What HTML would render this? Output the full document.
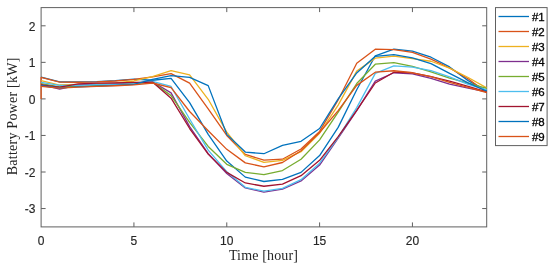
<!DOCTYPE html>
<html><head><meta charset="utf-8"><title>Battery Power</title>
<style>
html,body{margin:0;padding:0;background:#fff;}
body{width:550px;height:268px;overflow:hidden;}
svg{display:block;}
.tick{font-family:"Liberation Sans",Arial,Helvetica,sans-serif;font-size:12px;fill:#262626;stroke:#262626;stroke-width:0.15px;}
.lab{font-family:"Liberation Serif","Times New Roman",serif;font-size:14px;fill:#262626;}
.leg{font-family:"Liberation Sans",Arial,Helvetica,sans-serif;font-size:11.5px;fill:#000;stroke:#000;stroke-width:0.3px;}
</style></head><body>
<svg width="550" height="268" viewBox="0 0 550 268">
<rect x="0" y="0" width="550" height="268" fill="#fff"/>
<rect x="41.1" y="7.6" width="445.59999999999997" height="219.3" fill="#fff" stroke="#606060" stroke-width="1"/>
<text class="tick" x="41.10" y="244.5" text-anchor="middle">0</text>
<path d="M133.93 226.9 V222.4 M133.93 7.6 V12.1" stroke="#606060" stroke-width="1" fill="none"/>
<text class="tick" x="133.93" y="244.5" text-anchor="middle">5</text>
<path d="M226.77 226.9 V222.4 M226.77 7.6 V12.1" stroke="#606060" stroke-width="1" fill="none"/>
<text class="tick" x="226.77" y="244.5" text-anchor="middle">10</text>
<path d="M319.60 226.9 V222.4 M319.60 7.6 V12.1" stroke="#606060" stroke-width="1" fill="none"/>
<text class="tick" x="319.60" y="244.5" text-anchor="middle">15</text>
<path d="M412.43 226.9 V222.4 M412.43 7.6 V12.1" stroke="#606060" stroke-width="1" fill="none"/>
<text class="tick" x="412.43" y="244.5" text-anchor="middle">20</text>
<path d="M41.1 208.55 H45.6 M486.7 208.55 H482.2" stroke="#606060" stroke-width="1" fill="none"/>
<text class="tick" x="35.5" y="213.45" text-anchor="end">-3</text>
<path d="M41.1 172.00 H45.6 M486.7 172.00 H482.2" stroke="#606060" stroke-width="1" fill="none"/>
<text class="tick" x="35.5" y="176.90" text-anchor="end">-2</text>
<path d="M41.1 135.45 H45.6 M486.7 135.45 H482.2" stroke="#606060" stroke-width="1" fill="none"/>
<text class="tick" x="35.5" y="140.35" text-anchor="end">-1</text>
<path d="M41.1 98.90 H45.6 M486.7 98.90 H482.2" stroke="#606060" stroke-width="1" fill="none"/>
<text class="tick" x="35.5" y="103.80" text-anchor="end">0</text>
<path d="M41.1 62.35 H45.6 M486.7 62.35 H482.2" stroke="#606060" stroke-width="1" fill="none"/>
<text class="tick" x="35.5" y="67.25" text-anchor="end">1</text>
<path d="M41.1 25.80 H45.6 M486.7 25.80 H482.2" stroke="#606060" stroke-width="1" fill="none"/>
<text class="tick" x="35.5" y="30.70" text-anchor="end">2</text>
<polyline points="41.10,77.15 59.67,81.79 78.23,81.90 96.80,81.54 115.37,80.62 133.93,79.16 152.50,80.26 171.07,78.43 189.63,102.56 208.20,134.35 226.77,161.03 245.33,177.12 263.90,181.50 282.47,179.31 301.03,172.37 319.60,155.55 338.17,127.41 356.73,89.76 375.30,55.77 393.87,49.19 412.43,51.20 431.00,57.23 449.57,66.92 468.13,80.62 486.70,90.86" fill="none" stroke="#0072BD" stroke-width="1.3" stroke-linejoin="round"/>
<polyline points="41.10,98.90 41.10,77.34 59.67,82.09 78.23,82.27 96.80,81.90 115.37,80.99 133.93,79.35 152.50,76.97 171.07,73.68 189.63,83.18 208.20,108.77 226.77,135.45 245.33,154.46 263.90,160.12 282.47,159.21 301.03,148.97 319.60,131.43 338.17,100.00 356.73,63.26 375.30,49.19 393.87,49.56 412.43,52.48 431.00,59.06 449.57,68.02 468.13,78.80 486.70,92.50" fill="none" stroke="#D95319" stroke-width="1.3" stroke-linejoin="round"/>
<polyline points="41.10,80.62 59.67,85.01 78.23,84.28 96.80,83.55 115.37,82.82 133.93,80.99 152.50,76.60 171.07,70.57 189.63,74.96 208.20,99.27 226.77,132.16 245.33,155.74 263.90,162.31 282.47,160.30 301.03,151.71 319.60,133.26 338.17,105.11 356.73,71.12 375.30,58.15 393.87,56.14 412.43,58.70 431.00,61.25 449.57,68.20 468.13,77.52 486.70,87.94" fill="none" stroke="#EDB120" stroke-width="1.3" stroke-linejoin="round"/>
<polyline points="41.10,84.65 59.67,89.21 78.23,84.83 96.80,84.28 115.37,83.91 133.93,83.37 152.50,81.72 171.07,92.87 189.63,126.68 208.20,153.72 226.77,173.46 245.33,187.90 263.90,192.10 282.47,189.18 301.03,180.95 319.60,165.06 338.17,138.01 356.73,110.60 375.30,81.17 393.87,72.77 412.43,73.86 431.00,78.43 449.57,84.10 468.13,88.12 486.70,91.96" fill="none" stroke="#7E2F8E" stroke-width="1.3" stroke-linejoin="round"/>
<polyline points="41.10,83.55 59.67,86.84 78.23,86.47 96.80,85.74 115.37,85.01 133.93,83.91 152.50,82.09 171.07,95.61 189.63,122.29 208.20,146.42 226.77,164.32 245.33,172.37 263.90,174.56 282.47,170.54 301.03,159.21 319.60,139.84 338.17,112.06 356.73,83.55 375.30,64.18 393.87,62.72 412.43,66.37 431.00,71.85 449.57,78.14 468.13,83.18 486.70,88.48" fill="none" stroke="#77AC30" stroke-width="1.3" stroke-linejoin="round"/>
<polyline points="41.10,82.45 59.67,85.38 78.23,85.38 96.80,84.65 115.37,84.28 133.93,83.55 152.50,81.36 171.07,86.47 189.63,119.00 208.20,150.07 226.77,171.63 245.33,187.35 263.90,191.19 282.47,188.45 301.03,179.68 319.60,163.23 338.17,137.28 356.73,107.67 375.30,73.32 393.87,65.82 412.43,67.10 431.00,70.57 449.57,76.97 468.13,84.28 486.70,89.76" fill="none" stroke="#4DBEEE" stroke-width="1.3" stroke-linejoin="round"/>
<polyline points="41.10,84.83 59.67,87.20 78.23,83.91 96.80,83.18 115.37,82.82 133.93,82.45 152.50,82.09 171.07,98.17 189.63,128.51 208.20,154.09 226.77,172.37 245.33,182.96 263.90,186.25 282.47,184.06 301.03,175.66 319.60,160.30 338.17,136.55 356.73,110.41 375.30,83.00 393.87,72.22 412.43,72.77 431.00,76.60 449.57,81.17 468.13,86.29 486.70,91.96" fill="none" stroke="#A2142F" stroke-width="1.3" stroke-linejoin="round"/>
<polyline points="41.10,85.74 59.67,87.94 78.23,86.84 96.80,86.11 115.37,85.38 133.93,84.28 152.50,79.35 171.07,75.62 189.63,77.45 208.20,85.63 226.77,134.35 245.33,152.08 263.90,153.72 282.47,145.32 301.03,141.30 319.60,128.51 338.17,98.90 356.73,72.95 375.30,56.32 393.87,54.67 412.43,57.96 431.00,63.63 449.57,73.32 468.13,82.82 486.70,91.22" fill="none" stroke="#0072BD" stroke-width="1.3" stroke-linejoin="round"/>
<polyline points="41.10,86.29 59.67,88.12 78.23,87.20 96.80,86.47 115.37,85.74 133.93,84.83 152.50,83.00 171.07,87.57 189.63,111.51 208.20,130.70 226.77,149.34 245.33,162.86 263.90,166.88 282.47,162.50 301.03,150.80 319.60,132.53 338.17,110.60 356.73,85.38 375.30,72.22 393.87,70.76 412.43,72.77 431.00,76.60 449.57,82.27 468.13,87.28 486.70,92.50" fill="none" stroke="#D95319" stroke-width="1.3" stroke-linejoin="round"/>
<text class="lab" x="228.9" y="260.3" textLength="69" lengthAdjust="spacing">Time [hour]</text>
<text class="lab" transform="translate(16.9,175.2) rotate(-90)" textLength="117.5" lengthAdjust="spacing">Battery Power [kW]</text>
<rect x="495.5" y="7.6" width="51.6" height="138" fill="#fff" stroke="#606060" stroke-width="1"/>
<line x1="498.5" y1="16.5" x2="529" y2="16.5" stroke="#0072BD" stroke-width="1.3"/>
<text class="leg" x="531.9" y="21.1">#1</text>
<line x1="498.5" y1="31.5" x2="529" y2="31.5" stroke="#D95319" stroke-width="1.3"/>
<text class="leg" x="531.9" y="36.1">#2</text>
<line x1="498.5" y1="46.5" x2="529" y2="46.5" stroke="#EDB120" stroke-width="1.3"/>
<text class="leg" x="531.9" y="51.1">#3</text>
<line x1="498.5" y1="61.5" x2="529" y2="61.5" stroke="#7E2F8E" stroke-width="1.3"/>
<text class="leg" x="531.9" y="66.1">#4</text>
<line x1="498.5" y1="76.5" x2="529" y2="76.5" stroke="#77AC30" stroke-width="1.3"/>
<text class="leg" x="531.9" y="81.1">#5</text>
<line x1="498.5" y1="91.5" x2="529" y2="91.5" stroke="#4DBEEE" stroke-width="1.3"/>
<text class="leg" x="531.9" y="96.1">#6</text>
<line x1="498.5" y1="106.5" x2="529" y2="106.5" stroke="#A2142F" stroke-width="1.3"/>
<text class="leg" x="531.9" y="111.1">#7</text>
<line x1="498.5" y1="121.5" x2="529" y2="121.5" stroke="#0072BD" stroke-width="1.3"/>
<text class="leg" x="531.9" y="126.1">#8</text>
<line x1="498.5" y1="136.5" x2="529" y2="136.5" stroke="#D95319" stroke-width="1.3"/>
<text class="leg" x="531.9" y="141.1">#9</text>
</svg></body></html>
